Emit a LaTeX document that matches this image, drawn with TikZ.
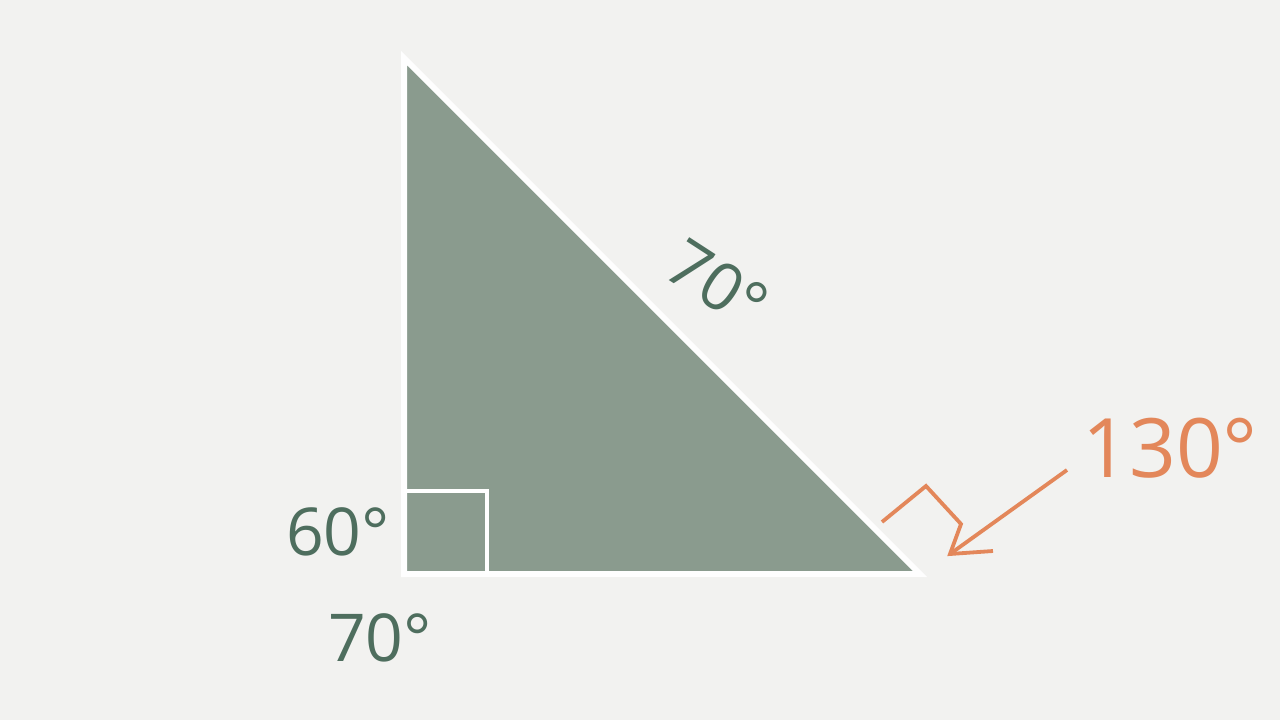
\documentclass[tikz,border=0pt]{standalone}
\usepackage{fontspec}
\setmainfont{Open Sans}
\usetikzlibrary{calc}
\begin{document}
\begin{tikzpicture}[x=1pt,y=-1pt,
  lbl/.style={text=labgreen,inner sep=0pt,font=\fontsize{66}{66}\selectfont},
  olbl/.style={text=orng,inner sep=0pt,font=\fontsize{82}{82}\selectfont},
  oline/.style={draw=orng,line width=3.8pt,line join=miter}]
\definecolor{bg}{HTML}{F2F2F0}
\definecolor{tri}{HTML}{8A9B8E}
\definecolor{labgreen}{HTML}{4E6E5E}
\definecolor{orng}{HTML}{E3875A}
\fill[bg] (0,0) rectangle (1280,720);
\useasboundingbox (0,0) rectangle (1280,720);
% triangle
\coordinate (A) at (404,58);
\coordinate (B) at (404,574);
\coordinate (C) at (920,574);
\fill[black!8] ($(A)+(3,3)$) -- ($(B)+(3,3)$) -- ($(C)+(3,3)$) -- cycle;
\fill[tri,draw=white!95!bg,line width=6pt,line join=miter] (A) -- (B) -- (C) -- cycle;
% right angle mark
\draw[white,line width=3.5pt] (404,491) -- (487,491) -- (487,574);
% labels
\node[lbl,rotate=-33] (hyp) at (718,284) {70°};
\node[lbl] (sixty) at (338,532) {60°};
\node[lbl] (seventy) at (380,638) {70°};
\node[olbl,anchor=west] (big) at (1082,448) {130°};
% orange marks
\coordinate (z1) at (882,522);
\coordinate (z2) at (926,486);
\coordinate (z3) at (961,524);
\coordinate (tip) at (950,554);
\coordinate (tail) at (1067,470);
\coordinate (barb) at (993,551);
\draw[oline] (z1) -- (z2) -- (z3) -- (tip) -- (barb);
\draw[oline] (tail) -- (tip);
\end{tikzpicture}
\end{document}
